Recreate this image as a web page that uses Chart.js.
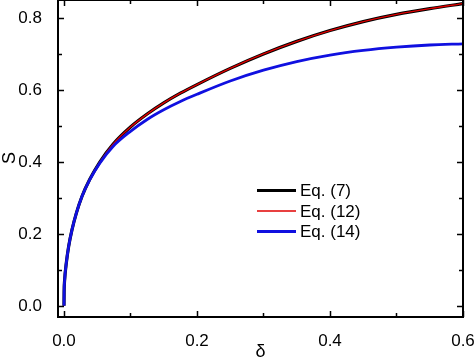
<!DOCTYPE html>
<html>
<head>
<meta charset="utf-8">
<script src="https://cdn.jsdelivr.net/npm/chart.js@4.4.1/dist/chart.umd.min.js"></script>
<style>
html,body{margin:0;padding:0;background:#fff;}
#wrap{width:474px;height:360px;position:relative;}
</style>
</head>
<body>
<div id="wrap"><canvas id="c" width="474" height="360"></canvas></div>
<script>
// ---- data ----
const delta = [0, 0.0002, 0.001, 0.0035, 0.007, 0.012, 0.0185, 0.027, 0.0386, 0.0536, 0.0737, 0.1, 0.125, 0.15, 0.175, 0.2, 0.25, 0.3, 0.35, 0.4, 0.45, 0.5, 0.55, 0.6];
const sEq7  = [0, 0.037, 0.072, 0.119, 0.165, 0.211, 0.257, 0.304, 0.351, 0.399, 0.449, 0.497, 0.533, 0.564, 0.591, 0.615, 0.660, 0.700, 0.735, 0.765, 0.790, 0.810, 0.826, 0.840];
const sEq12 = [0, 0.037, 0.072, 0.119, 0.165, 0.211, 0.257, 0.304, 0.351, 0.399, 0.449, 0.497, 0.533, 0.564, 0.591, 0.615, 0.660, 0.700, 0.735, 0.765, 0.790, 0.810, 0.826, 0.840];
const sEq14 = [0, 0.037, 0.072, 0.119, 0.165, 0.211, 0.257, 0.304, 0.350, 0.396, 0.443, 0.485, 0.518, 0.545, 0.568, 0.588, 0.625, 0.655, 0.679, 0.697, 0.710, 0.719, 0.725, 0.728];
const seriesLabels = ['Eq. (7)', 'Eq. (12)', 'Eq. (14)'];
const xMajorTicks = [0, 0.2, 0.4, 0.6];
const xMinorTicks = [0.1, 0.3, 0.5];
const yMajorTicks = [0, 0.2, 0.4, 0.6, 0.8];
const yMinorTicks = [0.1, 0.3, 0.5, 0.7];
const xTitle = 'δ';
const yTitle = 'S';

const FONT = '"Liberation Sans", Arial, sans-serif';
const pts = (ys) => delta.map((d, i) => ({x: d, y: ys[i]}));

const framePlugin = {
  id: 'frame',
  afterDraw(chart) {
    const {ctx, chartArea: a, scales: {x, y}} = chart;
    ctx.save();
    ctx.strokeStyle = '#000';
    ctx.lineWidth = 2;
    ctx.strokeRect(a.left, a.top, a.right - a.left, a.bottom - a.top);
    ctx.lineWidth = 1.5;
    const tick = (vals, len, horiz) => {
      vals.forEach(v => {
        ctx.beginPath();
        if (horiz) {
          const px = Math.round(x.getPixelForValue(v)) + 0.5;
          ctx.moveTo(px, a.bottom); ctx.lineTo(px, a.bottom - len);
          ctx.moveTo(px, a.top); ctx.lineTo(px, a.top + len);
        } else {
          const py = Math.round(y.getPixelForValue(v)) + 0.5;
          ctx.moveTo(a.left, py); ctx.lineTo(a.left + len, py);
          ctx.moveTo(a.right, py); ctx.lineTo(a.right - len, py);
        }
        ctx.stroke();
      });
    };
    tick(xMajorTicks, 6, true);
    tick(xMinorTicks, 4, true);
    tick(yMajorTicks, 6, false);
    tick(yMinorTicks, 4, false);
    // axis titles
    ctx.fillStyle = '#000';
    ctx.textAlign = 'center';
    ctx.textBaseline = 'middle';
    ctx.font = '18px ' + FONT;
    ctx.fillText(xTitle, (a.left + a.right) / 2, 352);
    ctx.save();
    ctx.translate(10, 158);
    ctx.rotate(-Math.PI / 2);
    ctx.fillText(yTitle, 0, 0);
    ctx.restore();
    // legend
    ctx.font = '17px ' + FONT;
    ctx.textAlign = 'left';
    const lx0 = 257, lx1 = 296, ly0 = 190.5, dy = 20.5;
    chart.data.datasets.forEach((ds, i) => {
      const yy = ly0 + i * dy;
      ctx.beginPath();
      ctx.strokeStyle = ds.borderColor;
      ctx.lineWidth = ds.borderWidth;
      ctx.moveTo(lx0, yy); ctx.lineTo(lx1, yy);
      ctx.stroke();
      ctx.fillText(ds.label, 300, yy + 1);
    });
    ctx.restore();
  }
};

new Chart(document.getElementById('c'), {
  type: 'line',
  data: {
    datasets: [
      {label: seriesLabels[0], data: pts(sEq7), borderColor: '#000000', borderWidth: 3.2, order: 3},
      {label: seriesLabels[1], data: pts(sEq12), borderColor: '#e00000', borderWidth: 1.4, order: 2},
      {label: seriesLabels[2], data: pts(sEq14), borderColor: '#1010e0', borderWidth: 2.8, order: 1}
    ]
  },
  options: {
    responsive: false,
    animation: false,
    devicePixelRatio: 1,
    layout: {padding: {top: 0, right: 11, left: 0, bottom: 0}},
    elements: {point: {radius: 0}, line: {cubicInterpolationMode: 'monotone', fill: false}},
    plugins: {legend: {display: false}, tooltip: {enabled: false}},
    scales: {
      x: {
        type: 'linear', min: -0.009, max: 0.6,
        grid: {display: false}, border: {display: false},
        afterBuildTicks: s => { s.ticks = xMajorTicks.map(v => ({value: v})); },
        afterFit: s => { s.height = 43; s.paddingLeft = 0; s.paddingRight = 0; },
        ticks: {font: {size: 17, family: FONT}, color: '#000', padding: 6, maxRotation: 0,
                callback: v => Number(v).toFixed(1)}
      },
      y: {
        type: 'linear', min: -0.031, max: 0.85,
        grid: {display: false}, border: {display: false},
        afterBuildTicks: s => { s.ticks = yMajorTicks.map(v => ({value: v})); },
        afterFit: s => { s.width = 58; s.paddingTop = 0; s.paddingBottom = 0; },
        ticks: {font: {size: 17, family: FONT}, color: '#000', padding: 8,
                callback: v => Number(v).toFixed(1)}
      }
    }
  },
  plugins: [framePlugin]
});
</script>
</body>
</html>
